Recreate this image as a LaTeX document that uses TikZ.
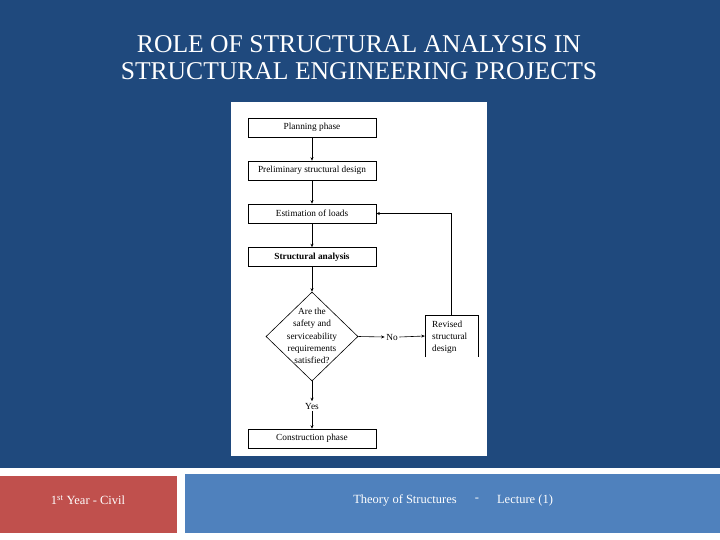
\documentclass[tikz,border=0pt]{standalone}
\usepackage{fontspec}
\setmainfont{Liberation Serif}
\usetikzlibrary{shapes.geometric,arrows.meta}
\definecolor{bgblue}{RGB}{31,73,125}
\definecolor{footred}{RGB}{192,80,77}
\definecolor{footblue}{RGB}{79,129,189}
\tikzset{
  flowbox/.style={draw=black, line width=0.6pt, fill=white, minimum width=128pt, minimum height=19pt, inner sep=0pt, font=\fontsize{9.3}{11}\selectfont},
  flowlabel/.style={inner sep=1.5pt, font=\fontsize{9.3}{11}\selectfont},
  flowarrow/.style={draw=black, line width=0.6pt, -{Stealth[length=3.5pt,width=3pt]}},
  titletext/.style={text=white, font=\fontsize{25.6}{27}\selectfont},
  foottext/.style={text=white, font=\fontsize{12.5}{14}\selectfont}
}
\begin{document}
\begin{tikzpicture}[x=1pt,y=-1pt]
\useasboundingbox (0,0) rectangle (720,540);
% background
\fill[bgblue] (0,0) rectangle (720,468);
\fill[white] (0,468) rectangle (720,540);
\fill[footred] (0,476) rectangle (177,533);
\fill[footblue] (185,474) rectangle (720,533);
% title
\node[titletext, anchor=base] (t1) at (359,53) {ROLE OF STRUCTURAL ANALYSIS IN};
\node[titletext, anchor=base] (t2) at (359,80) {STRUCTURAL ENGINEERING PROJECTS};
% flowchart panel
\fill[white] (231,102) rectangle (487,456);
\node[flowbox] (plan) at (312,127.5) {Planning phase};
\node[flowbox] (prelim) at (312,170.5) {Preliminary structural design};
\node[flowbox] (est) at (312,213.5) {Estimation of loads};
\node[flowbox, font=\fontsize{9.3}{11}\selectfont\bfseries] (anal) at (312,257) {Structural analysis};
\node[diamond, draw=black, line width=0.6pt, minimum width=92pt, minimum height=89pt, inner sep=0pt] (dec) at (312,336.5) {};
\node[align=center, inner sep=0pt, font=\fontsize{9.3}{12.3}\selectfont] (dectext) at (312,336) {Are the\\safety and\\serviceability\\requirements\\satisfied?};
\node[flowlabel] (no) at (392,337) {No};
\node[minimum width=53pt, minimum height=42pt, inner sep=0pt] (rev) at (451.5,336) {};
\node[align=left, inner sep=0pt, anchor=west, font=\fontsize{9.3}{12}\selectfont] (revtext) at (432,337) {Revised\\structural\\design};
\draw[black, line width=0.6pt] (rev.south west) -- (rev.north west) -- (rev.north east) -- (rev.south east);
\node[flowlabel] (yes) at (312,406) {Yes};
\node[flowbox] (cons) at (312,438.5) {Construction phase};
% connectors
\draw[flowarrow] (plan) -- (prelim);
\draw[flowarrow] (prelim) -- (est);
\draw[flowarrow] (est) -- (anal);
\draw[flowarrow] (anal) -- (dec);
\draw[flowarrow] (dec.east) -- (no.west);
\draw[flowarrow] (no.east) -- (rev.west);
\draw[flowarrow] (rev.north) |- (est.east);
\draw[flowarrow] (dec.south) -- (yes.north);
\draw[flowarrow] (yes.south) -- (cons.north);
% footer
\node[foottext] (f1) at (88,500) {1\textsuperscript{st} Year - Civil};
\node[foottext] (f2) at (405,500) {Theory of Structures};
\node[foottext] (f3) at (477,500) {-};
\node[foottext] (f4) at (525,500) {Lecture (1)};
\end{tikzpicture}
\end{document}
